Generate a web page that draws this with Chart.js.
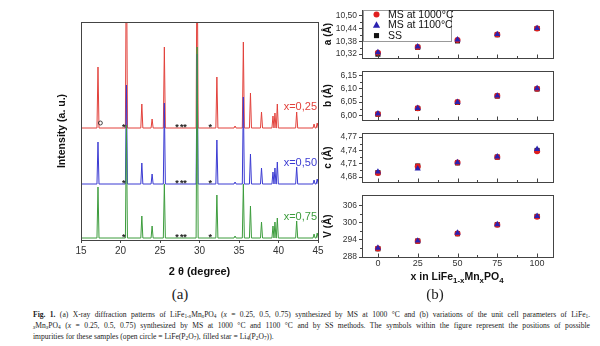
<!DOCTYPE html>
<html>
<head>
<meta charset="utf-8">
<script src="https://cdn.jsdelivr.net/npm/chart.js@4.4.0/dist/chart.umd.min.js"></script>
<style>
  body { margin: 0; background: #fff; }
  #wrap { position: relative; width: 600px; height: 346px; overflow: hidden; font-family: "Liberation Sans", Arial, sans-serif; }
  canvas { position: absolute; }
  .panel { position: absolute; font-family: "Liberation Serif", "Times New Roman", serif; font-size: 15px; color: #222; transform: translate(-50%, -50%); }
  .xtitle { position: absolute; font-weight: bold; font-size: 10.5px; color: #111; transform: translate(-50%, -50%); white-space: nowrap; }
  .xtitle sub { font-size: 75%; line-height: 0; }
  .cap { position: absolute; left: 33px; width: 557px; font-family: "Liberation Serif", "Times New Roman", serif; font-size: 7.6px; color: #222; line-height: 10px; text-align: justify; text-align-last: justify; }
  .cap.last { text-align-last: left; }
  .cap sub { font-size: 70%; line-height: 0; vertical-align: -0.25em; }
</style>
</head>
<body>
<div id="wrap">
  <canvas id="xrd" width="330" height="281" style="left:0;top:0"></canvas>
  <canvas id="pa" width="292" height="73" style="left:308px;top:3px"></canvas>
  <canvas id="pb" width="292" height="74" style="left:308px;top:64px"></canvas>
  <canvas id="pc" width="292" height="74" style="left:308px;top:126px"></canvas>
  <canvas id="pv" width="292" height="81" style="left:308px;top:188px"></canvas>

  <div class="xtitle" style="left:457px;top:276px">x in LiFe<sub>1-x</sub>Mn<sub>x</sub>PO<sub>4</sub></div>
  <div class="panel" style="left:180px;top:294px">(a)</div>
  <div class="panel" style="left:435px;top:294px">(b)</div>

  <div class="cap" style="top:310px"><b>Fig. 1.</b> (a) X-ray diffraction patterns of LiFe<sub>1-<i>x</i></sub>Mn<sub><i>x</i></sub>PO<sub>4</sub> (<i>x</i> = 0.25, 0.5, 0.75) synthesized by MS at 1000 °C and (b) variations of the unit cell parameters of LiFe<sub>1-</sub></div>
  <div class="cap" style="top:321px"><sub><i>x</i></sub>Mn<sub><i>x</i></sub>PO<sub>4</sub> (<i>x</i> = 0.25, 0.5, 0.75) synthesized by MS at 1000 °C and 1100 °C and by SS methods. The symbols within the figure represent the positions of possible</div>
  <div class="cap last" style="top:332px">impurities for these samples (open circle = LiFe(P<sub>2</sub>O<sub>7</sub>), filled star = Li<sub>4</sub>(P<sub>2</sub>O<sub>7</sub>)).</div>
</div>

<script>
// ---- (a) XRD patterns: [2theta, peak height above the pattern's baseline] ----
const twoThetaTicks = [15, 20, 25, 30, 35, 40, 45];
const sampleNames = ["x=0,25", "x=0,50", "x=0,75"];
const sampleOffsets = [112, 56, 2];

const peaks025 = [
  [17.15, 61], [20.75, 200], [22.7, 24], [24.0, 9], [25.55, 81], [29.7, 200],
  [32.2, 51], [34.5, 2], [35.55, 86], [36.45, 35], [37.85, 16],
  [39.3, 12], [39.55, 15], [39.85, 24], [42.3, 16], [44.5, 4], [44.9, 5]
];
const peaks050 = [
  [17.15, 42], [20.75, 99], [22.7, 21], [24.0, 10], [25.55, 81], [29.7, 130],
  [32.2, 44], [34.5, 2], [35.55, 87], [36.45, 30], [37.85, 16],
  [39.3, 12], [39.55, 16], [39.85, 22], [42.3, 17], [44.5, 4], [44.9, 5]
];
const peaks075 = [
  [17.15, 51], [20.75, 113], [22.7, 22], [24.0, 12], [25.55, 54], [29.7, 191],
  [32.2, 43], [34.5, 2], [35.55, 54], [36.45, 32], [37.85, 16],
  [39.3, 12], [39.55, 16], [39.85, 20], [42.3, 17], [44.5, 4], [44.9, 5]
];
const circleMarks = [17.45];                       // LiFe(P2O7), only in x=0,25
const starMarks = [20.4, 27.15, 27.75, 28.15, 31.35]; // Li4(P2O7)

// ---- (b) unit cell parameters vs Mn content ----
const mnContent = [0, 25, 50, 75, 100];
const seriesNames = ["MS at 1000°C", "MS at 1100°C", "SS"];

const aMS1000 = [10.326, 10.353, 10.386, 10.412, 10.440];
const aMS1100 = [10.328, 10.355, 10.388, 10.413, 10.441];
const aSS     = [10.320, 10.352, 10.382, 10.411, 10.440];
const aTicks  = [10.32, 10.38, 10.44, 10.50];

const bMS1000 = [6.005, 6.027, 6.050, 6.074, 6.101];
const bMS1100 = [6.006, 6.027, 6.050, 6.074, 6.102];
const bSS     = [6.004, 6.026, 6.049, 6.073, 6.100];
const bTicks  = [6.00, 6.05, 6.10, 6.15];

const cMS1000 = [4.689, 4.704, 4.713, 4.725, 4.738];
const cMS1100 = [4.692, 4.699, 4.713, 4.726, 4.743];
const cSS     = [4.690, 4.705, 4.712, 4.725, 4.740];
const cTicks  = [4.68, 4.71, 4.74, 4.77];

const vMS1000 = [291.0, 293.6, 296.3, 299.4, 302.2];
const vMS1100 = [291.2, 293.7, 296.5, 299.5, 302.4];
const vSS     = [290.9, 293.6, 296.2, 299.4, 302.3];
const vTicks  = [288, 294, 300, 306];

const FONT = '"Liberation Sans", Arial, sans-serif';
const lineColors = ["#e2413b", "#3b3bd2", "#3c9c3c"];
const RED = "#e01e1e", BLUE = "#2a22b0", BLACK = "#111";

// draws frame around the plot area
const framePlugin = {
  id: "frame",
  afterDraw(chart) {
    const { ctx, chartArea: a } = chart;
    ctx.save();
    ctx.strokeStyle = "#444";
    ctx.lineWidth = 1;
    ctx.strokeRect(Math.round(a.left) + 0.5, Math.round(a.top) + 0.5,
      Math.round(a.right - a.left), Math.round(a.bottom - a.top));
    ctx.restore();
  }
};

// impurity symbols and sample names on the XRD patterns
const xrdMarks = {
  id: "xrdMarks",
  afterDatasetsDraw(chart) {
    const { ctx, scales: { x, y } } = chart;
    ctx.save();
    ctx.textBaseline = "alphabetic";
    ctx.textAlign = "center";
    sampleOffsets.forEach((base, i) => {
      ctx.fillStyle = "#222";
      ctx.font = "bold 9px " + FONT;
      starMarks.forEach(p => ctx.fillText("*", x.getPixelForValue(p), y.getPixelForValue(base) + 2));
      if (i === 0) {
        circleMarks.forEach(p => {
          ctx.beginPath();
          ctx.strokeStyle = "#333";
          ctx.lineWidth = 0.9;
          ctx.arc(x.getPixelForValue(p), y.getPixelForValue(base + 5), 2, 0, Math.PI * 2);
          ctx.stroke();
        });
      }
      ctx.fillStyle = lineColors[i];
      ctx.font = "11px " + FONT;
      ctx.textAlign = "right";
      ctx.textBaseline = "middle";
      ctx.fillText(sampleNames[i], x.getPixelForValue(45) - 1, y.getPixelForValue(base + 21));
      ctx.textAlign = "center";
      ctx.textBaseline = "alphabetic";
    });
    ctx.restore();
  }
};

function pattern(peaks, base) {
  const pts = [{ x: 15, y: base }];
  peaks.forEach(([pos, h]) => {
    pts.push({ x: pos - 0.13, y: base }, { x: pos, y: base + h }, { x: pos + 0.13, y: base });
  });
  pts.push({ x: 45, y: base });
  return pts;
}

new Chart(document.getElementById("xrd"), {
  type: "line",
  data: {
    datasets: [2, 1, 0].map((i, k) => ({
      label: sampleNames[i],
      data: pattern([peaks025, peaks050, peaks075][i], sampleOffsets[i]),
      borderColor: lineColors[i],
      order: k
    }))
  },
  options: {
    responsive: false,
    animation: false,
    elements: { point: { radius: 0 }, line: { borderWidth: 1, tension: 0 } },
    layout: { padding: { left: 52, top: 22, right: 12, bottom: 0 } },
    plugins: { legend: { display: false }, tooltip: { enabled: false } },
    scales: {
      x: {
        type: "linear", min: 15, max: 45,
        afterBuildTicks: s => { s.ticks = twoThetaTicks.map(v => ({ value: v })); },
        afterFit: s => { s.height = 41; },
        grid: { drawOnChartArea: false, tickLength: 3, color: "#444" },
        border: { color: "#444" },
        ticks: { font: { size: 10, family: FONT }, color: "#333", padding: 2, maxRotation: 0 },
        title: { display: true, text: "2 θ (degree)", color: "#111",
          font: { size: 11, weight: "bold", family: FONT }, padding: { top: 0, bottom: 2 } }
      },
      y: {
        min: 0, max: 218,
        afterFit: s => { s.width = 29; },
        grid: { display: false },
        border: { color: "#444" },
        ticks: { display: false },
        title: { display: true, text: "Intensity (a. u.)", color: "#111",
          font: { size: 10.5, weight: "bold", family: FONT } }
      }
    }
  },
  plugins: [framePlugin, xrdMarks]
});

// ---- (b) panels ----
function drawMarker(ctx, style, x, y, r, color) {
  ctx.fillStyle = color;
  ctx.beginPath();
  if (style === "circle") {
    ctx.arc(x, y, r, 0, Math.PI * 2);
  } else if (style === "triangle") {
    ctx.moveTo(x, y - r * 1.1);
    ctx.lineTo(x + r, y + r * 0.75);
    ctx.lineTo(x - r, y + r * 0.75);
    ctx.closePath();
  } else {
    const s = r * Math.SQRT1_2;
    ctx.rect(x - s, y - s, 2 * s, 2 * s);
  }
  ctx.fill();
}

const panelTicks = {
  id: "panelTicks",
  afterDraw(chart) {
    const { ctx, chartArea: a, scales: { x, y } } = chart;
    ctx.save();
    ctx.strokeStyle = "#444";
    ctx.lineWidth = 1;
    ctx.beginPath();
    mnContent.forEach((v, i) => {
      const px = Math.round(x.getPixelForValue(v)) + 0.5;
      ctx.moveTo(px, a.bottom);
      ctx.lineTo(px, a.bottom - 3.5);
      if (i < mnContent.length - 1) {
        const pm = Math.round(x.getPixelForValue((v + mnContent[i + 1]) / 2)) + 0.5;
        ctx.moveTo(pm, a.bottom);
        ctx.lineTo(pm, a.bottom - 2);
      }
    });
    const yt = y.ticks.map(t => t.value);
    for (let i = 0; i < yt.length - 1; i++) {
      const py = Math.round(y.getPixelForValue((yt[i] + yt[i + 1]) / 2)) + 0.5;
      ctx.moveTo(a.left, py);
      ctx.lineTo(a.left - 2, py);
    }
    ctx.stroke();
    ctx.restore();
  }
};

const legendBox = {
  id: "legendBox",
  afterDraw(chart) {
    const { ctx, chartArea: a } = chart;
    ctx.save();
    ctx.strokeStyle = "#999";
    ctx.lineWidth = 1;
    ctx.strokeRect(Math.round(a.left) + 1.5, Math.round(a.top) + 0.5, 88, 31);
    chart.data.datasets.forEach((ds, i) => {
      const cy = a.top + 4.5 + i * 10.5;
      drawMarker(ctx, ds.pointStyle, a.left + 14.5, cy, ds.pointRadius, ds.backgroundColor);
      ctx.fillStyle = "#111";
      ctx.font = "10.5px " + FONT;
      ctx.textBaseline = "middle";
      ctx.textAlign = "left";
      ctx.fillText(ds.label, a.left + 26, cy + 0.5);
    });
    ctx.restore();
  }
};

function latticePanel(id, yTitle, yTicks, yMin, yMax, ms1000, ms1100, ss, opts) {
  const decimals = opts.decimals;
  const pts = arr => mnContent.map((v, i) => ({ x: v, y: arr[i] }));
  const plugins = [framePlugin, panelTicks];
  if (opts.legend) plugins.push(legendBox);
  return new Chart(document.getElementById(id), {
    type: "scatter",
    data: {
      datasets: [
        { label: seriesNames[0], data: pts(ms1000), pointStyle: "circle", pointRadius: 3,
          backgroundColor: RED, borderColor: RED, borderWidth: 0, order: 1 },
        { label: seriesNames[1], data: pts(ms1100), pointStyle: "triangle", pointRadius: 3.6,
          backgroundColor: BLUE, borderColor: BLUE, borderWidth: 0, order: 0 },
        { label: seriesNames[2], data: pts(ss), pointStyle: "rect", pointRadius: 3.6,
          backgroundColor: BLACK, borderColor: BLACK, borderWidth: 0, order: 2 }
      ]
    },
    options: {
      responsive: false,
      animation: false,
      layout: { padding: { left: 10, right: 47, top: 6, bottom: opts.xAxis ? 0 : 6 } },
      plugins: { legend: { display: false }, tooltip: { enabled: false } },
      scales: {
        x: {
          type: "linear", min: -10, max: 110,
          display: !!opts.xAxis,
          afterBuildTicks: s => { s.ticks = mnContent.map(v => ({ value: v })); },
          afterFit: s => { s.height = 12; },
          grid: { display: false, drawTicks: false, tickLength: 0 },
          border: { display: false },
          ticks: { font: { size: 9, family: FONT }, color: "#333", padding: 1, maxRotation: 0 }
        },
        y: {
          min: yMin, max: yMax,
          afterBuildTicks: s => { s.ticks = yTicks.map(v => ({ value: v })); },
          afterFit: s => { s.width = 44; },
          grid: { drawOnChartArea: false, tickLength: 3, color: "#444" },
          border: { color: "#444" },
          ticks: {
            font: { size: 8.5, family: FONT }, color: "#333", padding: 2,
            callback: v => decimals ? v.toFixed(decimals).replace(".", ",") : String(v)
          },
          title: { display: true, text: yTitle, color: "#111",
            font: { size: 10, weight: "bold", family: FONT }, padding: { top: 4, bottom: 0 } }
        }
      }
    },
    plugins: plugins
  });
}

latticePanel("pa", "a (Å)", aTicks, 10.302, 10.526, aMS1000, aMS1100, aSS, { decimals: 2, legend: true });
latticePanel("pb", "b (Å)", bTicks, 5.982, 6.168, bMS1000, bMS1100, bSS, { decimals: 2 });
latticePanel("pc", "c (Å)", cTicks, 4.669, 4.779, cMS1000, cMS1100, cSS, { decimals: 2 });
latticePanel("pv", "V (Å)", vTicks, 288, 309.8, vMS1000, vMS1100, vSS, { decimals: 0, xAxis: true });
</script>
</body>
</html>
